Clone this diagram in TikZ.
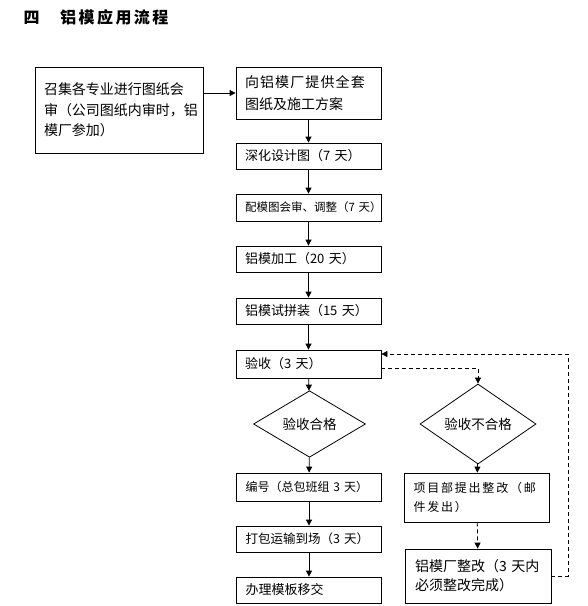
\documentclass[tikz,border=0pt]{standalone}
\usepackage{fontspec}
\setmainfont{Noto Sans CJK SC}
\usetikzlibrary{arrows.meta, shapes.geometric, positioning}

\tikzset{
    stepbox/.style={draw, line width=0.8pt, inner xsep=9pt, inner ysep=0pt,
        minimum height=26pt, text width=127pt, align=left,
        font=\fontsize{13pt}{19pt}\selectfont},
    checkbox/.style={draw, diamond, line width=0.8pt, inner sep=0pt,
        minimum width=112pt, minimum height=48pt,
        font=\fontsize{13.5pt}{16pt}\selectfont},
    flow/.style={-{Triangle[length=6pt,width=6pt]}, line width=0.8pt},
    backflow/.style={flow, dash pattern=on 4pt off 3pt}
}

\begin{document}
\begin{tikzpicture}[x=1pt, y=-1pt]
    \useasboundingbox (0,0) rectangle (588,606);

    % Tiêu đề
    \node[anchor=west, font=\fontsize{16pt}{18pt}\selectfont\bfseries] (title) at (20,17)
        {四\hspace{1.3em}{\addfontfeature{LetterSpace=15}铝模应用流程}};

    % Cột chính
    \node[stepbox, text width=150pt, minimum height=86pt, font=\fontsize{14pt}{20.5pt}\selectfont] (meet) at (119,110)
        {召集各专业进行图纸会\\审（公司图纸内审时，铝\\模厂参加）};
    \node[stepbox, minimum height=52pt, font=\fontsize{14pt}{22pt}\selectfont] (supply) at (308.5,93)
        {{\addfontfeature{LetterSpace=8}向铝模厂提供全套}\\图纸及施工方案};
    \node[stepbox] (design) at (308.5,156) {深化设计图（7~天）};
    \node[stepbox, minimum height=27pt, font=\fontsize{11.5pt}{16pt}\selectfont] (review) at (308.5,207.5) {配模图会审、调整（7~天）};
    \node[stepbox] (make) at (308.5,259) {铝模加工（20~天）};
    \node[stepbox] (trial) at (308.5,311) {铝模试拼装（15~天）};
    \node[stepbox, minimum height=28pt] (accept) at (308.5,364) {验收（3~天）};
    \node[checkbox] (pass) at (309.5,424) {验收合格};
    \node[stepbox, minimum height=28pt, font=\fontsize{12pt}{16pt}\selectfont] (number) at (309,487) {编号（总包班组~3~天）};
    \node[stepbox, font=\fontsize{12.5pt}{16pt}\selectfont] (ship) at (309,539) {打包运输到场（3~天）};
    \node[stepbox] (handover) at (309,590) {办理模板移交};

    % Nhánh không đạt
    \node[checkbox, minimum width=116pt] (fail) at (478,424) {验收不合格};
    \node[stepbox, minimum height=49pt, font=\fontsize{12pt}{19pt}\selectfont] (notice) at (477,497.5)
        {\addfontfeature{LetterSpace=15}项目部提出整改（邮\\件发出）};
    \node[stepbox, inner xsep=10pt, text width=126pt, minimum height=54pt, font=\fontsize{14pt}{19pt}\selectfont] (fix) at (478,576)
        {铝模厂整改（3~天内\\必须整改完成）};
    \coordinate (back) at (568,354);

    % Mũi tên
    \draw[flow] (meet.east |- supply) -- (supply.west);
    \draw[flow] (supply) -- (design);
    \draw[flow] (design) -- (review);
    \draw[flow] (review) -- (make);
    \draw[flow] (make) -- (trial);
    \draw[flow] (trial) -- (accept);
    \draw[flow] (accept) -- (pass);
    \draw[flow] (pass) -- (number);
    \draw[flow] (number) -- (ship);
    \draw[flow] (ship) -- (handover);
    \draw[backflow] ([yshift=-4pt]accept.east) -| (fail.north);
    \draw[backflow] (fail) -- (notice);
    \draw[backflow] (notice) -- (fix);
    \draw[backflow] (fix.east) -| (back) -- (back -| accept.east);
\end{tikzpicture}
\end{document}
